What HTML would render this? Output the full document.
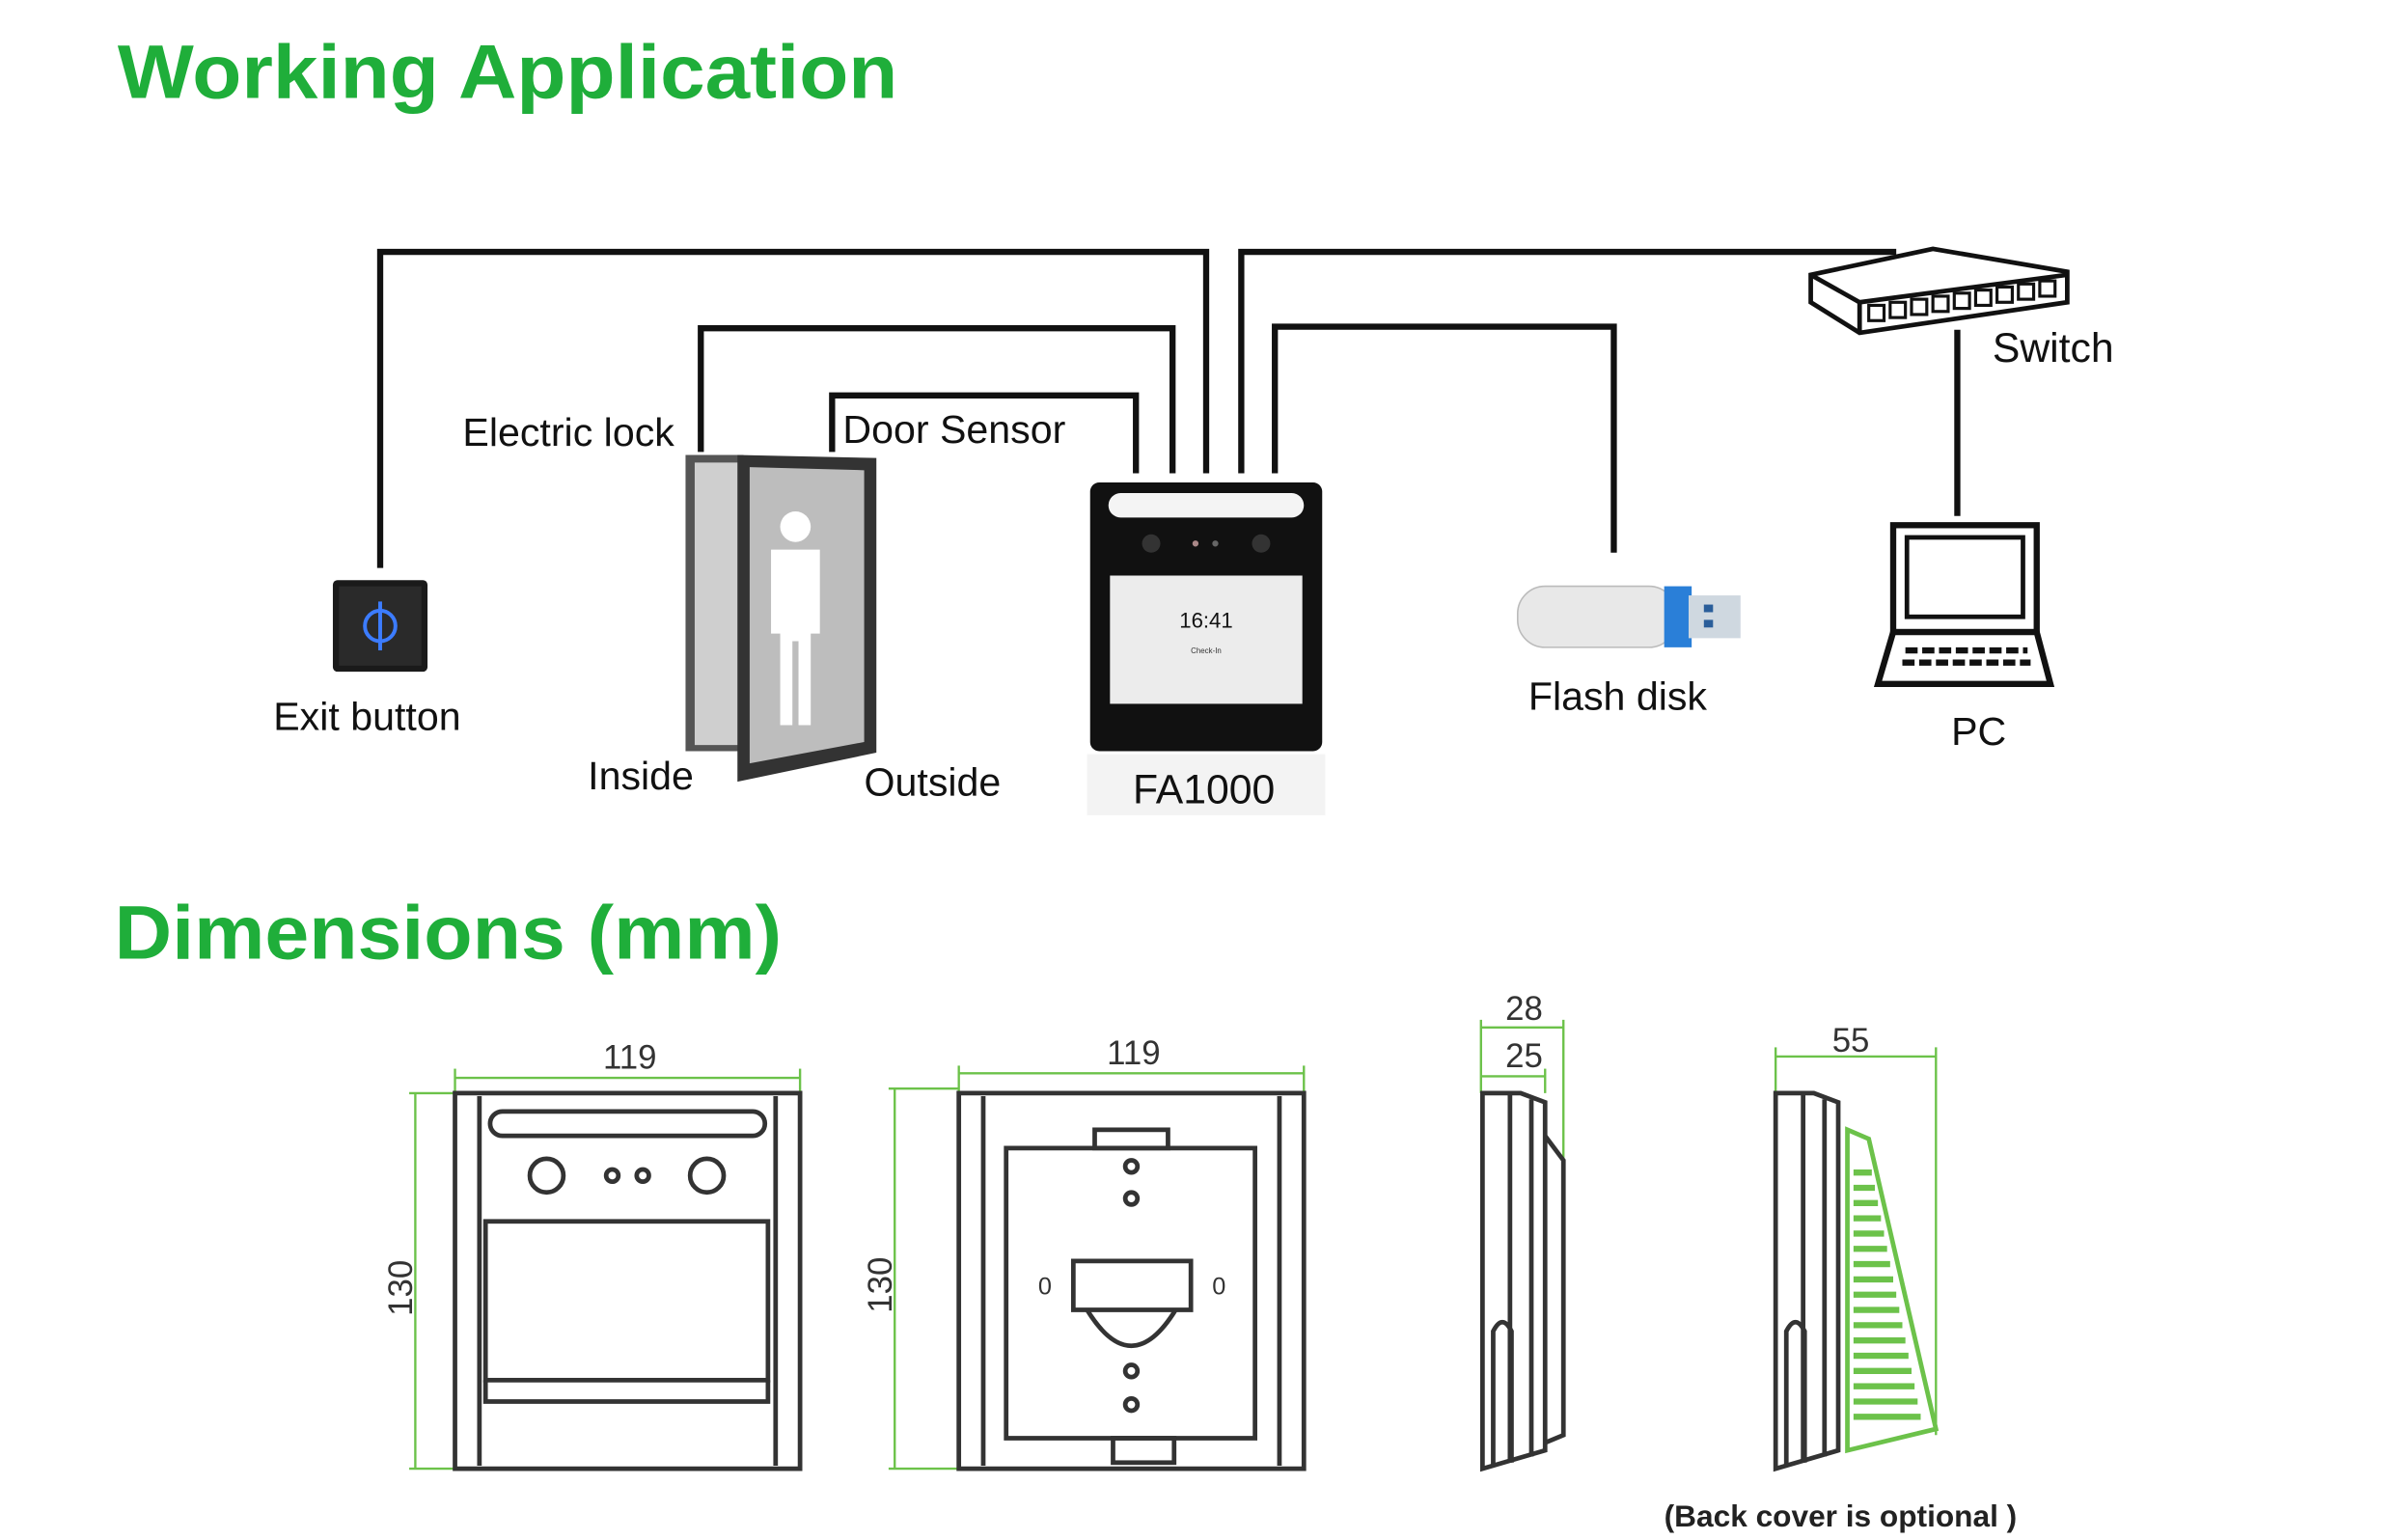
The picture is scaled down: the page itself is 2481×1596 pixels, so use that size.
<!DOCTYPE html>
<html><head><meta charset="utf-8"><style>
html,body{margin:0;padding:0;background:#fff;}
svg{display:block;}
text{font-family:"Liberation Sans",sans-serif;}
</style></head><body>
<svg width="2481" height="1596" viewBox="0 0 1568 1008.7" xmlns="http://www.w3.org/2000/svg">
<rect width="1568" height="1008.7" fill="#fff"/>
<!-- titles -->
<text x="77" y="64" font-size="50" font-weight="bold" fill="#1fae3a" textLength="511" lengthAdjust="spacingAndGlyphs">Working Application</text>
<text x="75" y="628" font-size="50" font-weight="bold" fill="#1fae3a" textLength="437" lengthAdjust="spacingAndGlyphs">Dimensions (mm)</text>

<!-- connecting lines -->
<g fill="none" stroke="#111" stroke-width="4">
<path d="M249 372 V165 H790 V310"/>
<path d="M459 296 V215 H768 V310"/>
<path d="M545 296 V259 H744 V310"/>
<path d="M813 310 V165 H1242"/>
<path d="M835 310 V214 H1057 V362"/>
<path d="M1282 216 V338"/>
</g>

<!-- exit button -->
<rect x="218" y="380" width="62" height="60" rx="3" fill="#1a1a1a"/>
<rect x="222" y="384" width="54" height="52" fill="#2a2a2a"/>
<circle cx="249" cy="410" r="10" fill="none" stroke="#3c7cff" stroke-width="2.5"/>
<line x1="249" y1="394" x2="249" y2="426" stroke="#3c7cff" stroke-width="2.5"/>
<text x="179" y="478" font-size="26" fill="#111">Exit button</text>

<!-- door -->
<text x="303" y="292" font-size="26" fill="#111">Electric lock</text>
<text x="552" y="290" font-size="26" fill="#111">Door Sensor</text>
<polygon points="449,298 487,298 487,492 449,492" fill="#555"/>
<polygon points="455,303 490,303 490,488 455,488" fill="#cfcfcf"/>
<polygon points="483,298 574,300 574,493 483,512" fill="#333"/>
<polygon points="491,306 566,308 566,486 491,500" fill="#bdbdbd"/>
<circle cx="521" cy="345" r="10" fill="#fff"/>
<path d="M505 360 h32 v55 h-6 v60 h-8 v-55 h-4 v55 h-8 v-60 h-6 z" fill="#fff"/>
<text x="385" y="517" font-size="26" fill="#111">Inside</text>
<text x="566" y="521" font-size="26" fill="#111">Outside</text>

<!-- FA1000 -->
<rect x="714" y="316" width="152" height="176" rx="6" fill="#111"/>
<rect x="726" y="323" width="128" height="16" rx="8" fill="#f4f4f4"/>
<circle cx="754" cy="356" r="6" fill="#333"/>
<circle cx="826" cy="356" r="6" fill="#333"/>
<circle cx="783" cy="356" r="2" fill="#a88"/>
<circle cx="796" cy="356" r="2" fill="#666"/>
<rect x="727" y="377" width="126" height="84" fill="#ececec"/>
<text x="790" y="411" font-size="14" text-anchor="middle" fill="#111">16:41</text>
<text x="790" y="428" font-size="5" text-anchor="middle" fill="#333">Check-In</text>
<rect x="712" y="494" width="156" height="40" fill="#f3f3f3"/>
<text x="742" y="526" font-size="27" fill="#111">FA1000</text>

<!-- flash disk -->
<rect x="994" y="384" width="104" height="40" rx="18" fill="#e8e8e8" stroke="#bbb"/>
<rect x="1090" y="384" width="18" height="40" fill="#2a7fd8"/>
<rect x="1106" y="390" width="34" height="28" fill="#cfd8e0"/>
<rect x="1116" y="396" width="6" height="5" fill="#2a5e9a"/>
<rect x="1116" y="406" width="6" height="5" fill="#2a5e9a"/>
<text x="1001" y="465" font-size="26" fill="#111">Flash disk</text>

<!-- switch -->
<polygon points="1186,180 1266,163 1354,178 1354,198 1218,218 1186,198" fill="#fff" stroke="#111" stroke-width="3"/>
<polyline points="1186,180 1218,198 1354,180" fill="none" stroke="#111" stroke-width="3"/>
<line x1="1218" y1="198" x2="1218" y2="218" stroke="#111" stroke-width="3"/>
<g fill="none" stroke="#111" stroke-width="2">
<rect x="1224" y="200" width="10" height="10"/><rect x="1238" y="198" width="10" height="10"/><rect x="1252" y="196" width="10" height="10"/><rect x="1266" y="194" width="10" height="10"/><rect x="1280" y="192" width="10" height="10"/><rect x="1294" y="190" width="10" height="10"/><rect x="1308" y="188" width="10" height="10"/><rect x="1322" y="186" width="10" height="10"/><rect x="1336" y="184" width="10" height="10"/>
</g>
<text x="1305" y="237" font-size="27" fill="#111">Switch</text>

<!-- PC -->
<rect x="1240" y="344" width="94" height="70" fill="#fff" stroke="#111" stroke-width="4"/>
<rect x="1249" y="352" width="76" height="52" fill="#fff" stroke="#111" stroke-width="3"/>
<polygon points="1240,414 1334,414 1343,448 1230,448" fill="#fff" stroke="#111" stroke-width="4"/>
<line x1="1248" y1="426" x2="1328" y2="426" stroke="#111" stroke-width="4" stroke-dasharray="8,3"/>
<line x1="1246" y1="434" x2="1330" y2="434" stroke="#111" stroke-width="4" stroke-dasharray="8,3"/>
<text x="1278" y="488" font-size="26" fill="#111">PC</text>

<!-- dimensions -->
<g stroke="#6cc24a" stroke-width="1.5" fill="none">
<line x1="298" y1="706" x2="524" y2="706"/><line x1="298" y1="700" x2="298" y2="716"/><line x1="524" y1="700" x2="524" y2="716"/>
<line x1="272" y1="716" x2="272" y2="962"/><line x1="268" y1="716" x2="298" y2="716"/><line x1="268" y1="962" x2="298" y2="962"/>
<line x1="628" y1="703" x2="854" y2="703"/><line x1="628" y1="698" x2="628" y2="716"/><line x1="854" y1="698" x2="854" y2="716"/>
<line x1="586" y1="713" x2="586" y2="962"/><line x1="582" y1="713" x2="628" y2="713"/><line x1="582" y1="962" x2="628" y2="962"/>
<line x1="970" y1="673" x2="1024" y2="673"/><line x1="970" y1="705" x2="1012" y2="705"/>
<line x1="970" y1="668" x2="970" y2="716"/><line x1="1024" y1="668" x2="1024" y2="760"/><line x1="1012" y1="700" x2="1012" y2="716"/>
<line x1="1163" y1="692" x2="1268" y2="692"/><line x1="1163" y1="686" x2="1163" y2="716"/><line x1="1268" y1="686" x2="1268" y2="940"/>
</g>
<g font-size="22" fill="#333">
<text x="395" y="700">119</text><text x="725" y="697">119</text>
<text x="986" y="668">28</text><text x="986" y="699">25</text><text x="1200" y="689">55</text>
<text transform="translate(270,862) rotate(-90)">130</text>
<text transform="translate(584,860) rotate(-90)">130</text>
</g>

<g fill="none" stroke="#333" stroke-width="3">
<!-- front -->
<path d="M298 716 H524 V962 H298 Z"/>
<path d="M314 718 V960 M508 718 V960"/>
<rect x="321" y="728" width="180" height="16" rx="8"/>
<circle cx="358" cy="770" r="11"/><circle cx="463" cy="770" r="11"/>
<circle cx="401" cy="770" r="4"/><circle cx="421" cy="770" r="4"/>
<rect x="318" y="800" width="185" height="104"/>
<path d="M318 904 V918 H503 V904"/>
<!-- back -->
<path d="M628 716 H854 V962 H628 Z"/>
<path d="M644 718 V960 M838 718 V960"/>
<path d="M659 752 H822 V942 H659 Z"/>
<rect x="717" y="740" width="48" height="12"/>
<circle cx="741" cy="764" r="4"/><circle cx="741" cy="785" r="4"/>
<path d="M703 826 H780 V858 H703 Z"/>
<path d="M712 858 Q741 905 770 858"/>
<circle cx="741" cy="898" r="4"/><circle cx="741" cy="920" r="4"/>
<rect x="729" y="942" width="40" height="16"/>
<text x="680" y="848" font-size="16" stroke="none" fill="#333">0</text>
<text x="794" y="848" font-size="16" stroke="none" fill="#333">0</text>
<!-- side 1 -->
<path d="M971 716 H996 L1012 722 V950 L971 962 Z"/>
<path d="M989 716 V958 M1003 720 V954"/>
<path d="M1012 744 L1024 760 V940 L1012 945"/>
<path d="M978 960 V872 Q984 860 990 872 V958"/>
<!-- side 2 -->
<path d="M1163 716 H1188 L1204 722 V950 L1163 962 Z"/>
<path d="M1181 716 V958 M1195 720 V954"/>
<path d="M1170 960 V872 Q1176 860 1182 872 V958"/>
</g>
<g fill="none" stroke="#6cc24a" stroke-width="3">
<path d="M1210 740 L1224 746 L1268 936 L1210 950 Z"/>
<path d="M1214 768 H1226 M1214 778 H1228 M1214 788 H1230 M1214 798 H1232 M1214 808 H1234 M1214 818 H1236 M1214 828 H1238 M1214 838 H1240 M1214 848 H1242 M1214 858 H1244 M1214 868 H1246 M1214 878 H1248 M1214 888 H1250 M1214 898 H1252 M1214 908 H1254 M1214 918 H1256 M1214 928 H1258" stroke-width="4"/>
</g>
<text x="1090" y="1000" font-size="20" font-weight="bold" fill="#222">(Back cover is optional )</text>
</svg>
</body></html>
